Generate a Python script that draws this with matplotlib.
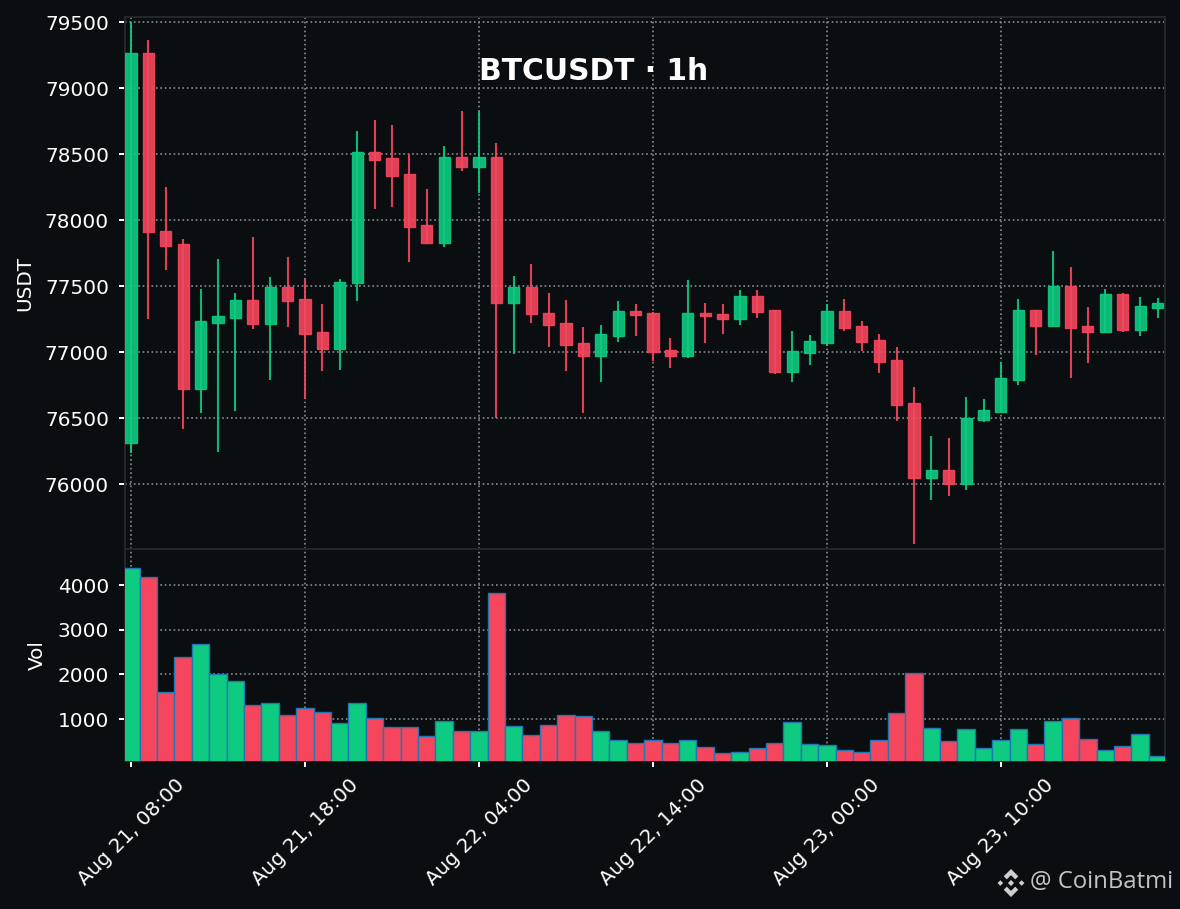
import matplotlib
matplotlib.use('Agg')
import matplotlib.pyplot as plt
import numpy as np
from matplotlib.patches import Polygon

# hourly candles
opens = [76310, 79265, 77917, 77818, 76720, 77220, 77258, 77394, 77212, 77492,
         77401, 77151, 77023, 77523, 78515, 78470, 78348, 77962, 77826, 78477,
         78402, 78477, 77371, 77492, 77295, 77220, 77068, 76970, 77121, 77311,
         77295, 77015, 76970, 77295, 77288, 77250, 77424, 77318, 76848, 76992,
         77068, 77311, 77197, 77091, 76939, 76614, 76045, 76106, 76000, 76485,
         76545, 76788, 77318, 77197, 77500, 77197, 77151, 77439, 77167, 77333]
highs = [79500, 79365, 78250, 77856, 77477, 77705, 77447, 77871, 77568, 77720,
         77553, 77364, 77553, 78674, 78758, 78720, 78500, 78235, 78561, 78826,
         78826, 78583, 77576, 77667, 77447, 77394, 77189, 77205, 77386, 77364,
         77303, 77106, 77545, 77371, 77364, 77470, 77470, 77318, 77159, 77129,
         77364, 77401, 77235, 77136, 77038, 76735, 76364, 76348, 76659, 76644,
         76924, 77401, 77318, 77765, 77644, 77341, 77477, 77447, 77417, 77409]
lows = [76235, 77250, 77620, 76417, 76538, 76242, 76553, 77174, 76788, 77189,
        76644, 76856, 76864, 77386, 78083, 78098, 77682, 77818, 77795, 78371,
        78205, 76500, 76985, 77220, 77038, 76856, 76538, 76773, 77076, 77121,
        76932, 76879, 76955, 77068, 77136, 77205, 77258, 76833, 76773, 76902,
        77045, 77159, 77008, 76841, 76477, 75545, 75879, 75909, 75955, 76470,
        76545, 76750, 76977, 77197, 76803, 76917, 77151, 77151, 77121, 77258]
closes = [79265, 77910, 77803, 76720, 77235, 77273, 77394, 77212, 77492, 77386,
          77136, 77023, 77530, 78515, 78455, 78333, 77947, 77826, 78477, 78402,
          78477, 77371, 77492, 77288, 77205, 77053, 76970, 77136, 77311, 77280,
          77000, 76970, 77295, 77270, 77250, 77424, 77303, 76848, 77008, 77083,
          77311, 77182, 77076, 76924, 76598, 76045, 76106, 76000, 76500, 76561,
          76803, 77318, 77197, 77500, 77182, 77151, 77439, 77167, 77348, 77371]
volumes = [4381, 4179, 1605, 2388, 2679, 2008, 1851, 1313, 1358, 1090,
           1246, 1157, 910, 1358, 1020, 821, 821, 625, 955, 731,
           731, 3821, 843, 642, 866, 1090, 1067, 731, 530, 463,
           530, 463, 530, 373, 239, 261, 351, 463, 933, 440,
           418, 306, 261, 530, 1134, 2030, 800, 507, 776, 351,
           530, 776, 440, 955, 1022, 552, 306, 395, 664, 172]
tick_pos = [0, 10, 20, 30, 40, 50]
tick_labels = ['Aug 21, 08:00', 'Aug 21, 18:00', 'Aug 22, 04:00',
               'Aug 22, 14:00', 'Aug 23, 00:00', 'Aug 23, 10:00']
price_ticks = [76000, 76500, 77000, 77500, 78000, 78500, 79000, 79500]
vol_ticks = [1000, 2000, 3000, 4000]

BG = '#0b0e11'
GREEN = '#0ecb81'
RED = '#f6465d'
W, H = 1180, 909

plt.rcParams['font.family'] = 'DejaVu Sans'
plt.rcParams['font.size'] = 7.2

fig = plt.figure(figsize=(W / 200, H / 200), dpi=200, facecolor=BG)
ax = fig.add_axes([125 / W, 1 - 549 / H, 1040 / W, 532 / H], facecolor=BG)
ax2 = fig.add_axes([125 / W, 1 - 761 / H, 1040 / W, 212 / H], facecolor=BG, sharex=ax)

x = np.arange(len(opens))
o = np.array(opens)
c = np.array(closes)
colors = [GREEN if b >= a else RED for a, b in zip(opens, closes)]

# candles
ax.vlines(x, lows, highs, colors=colors, linewidth=0.75, alpha=0.9, zorder=3)
ax.bar(x, np.abs(c - o), bottom=np.minimum(o, c), width=0.64, color=colors,
       edgecolor=colors, linewidth=0.5, alpha=0.9, zorder=3)
ax.set_ylim(75508, 79538)
ax.set_xlim(-0.345, 59.43)
ax.set_yticks(price_ticks)
ax.set_ylabel('USDT', color='white')
ax.yaxis.set_label_coords((34 - 125) / 1040, 0.5)

# volume
ax2.bar(x, volumes, width=1.0, color=colors, edgecolor='#1f77b4', linewidth=0.5, zorder=3)
ax2.set_ylim(60, 4806)
ax2.set_yticks(vol_ticks)
ax2.set_xticks(tick_pos)
ax2.set_xticklabels(tick_labels, rotation=45)
ax2.set_ylabel('Vol', color='white')
ax2.yaxis.set_label_coords((47 - 125) / 1040, 0.5)

for a in (ax, ax2):
    a.set_axisbelow(True)
    a.grid(True, linestyle=':', linewidth=0.6, color='#8a8d90')
    a.tick_params(colors='white', length=2.3, width=0.7, pad=3.5, labelsize=7.2)
    for s in a.spines.values():
        s.set_color('#23282d')
        s.set_linewidth(0.7)
ax.tick_params(axis='x', length=0, labelbottom=False)
ax2.tick_params(axis='x', pad=2.9)

fig.text(594 / W, 1 - 71 / H, 'BTCUSDT · 1h', color='white', fontsize=10.7,
         fontweight='bold', ha='center', va='center')

# watermark: logo and handle
logo = fig.add_axes([997 / W, 1 - 897 / H, 28 / W, 28 / H])
logo.set_xlim(-1, 1)
logo.set_ylim(-1, 1)
logo.axis('off')
shapes = [
    [(0, 0.22), (0.22, 0), (0, -0.22), (-0.22, 0)],
    [(-0.76, 0.2), (-0.56, 0), (-0.76, -0.2), (-0.96, 0)],
    [(0.76, 0.2), (0.96, 0), (0.76, -0.2), (0.56, 0)],
    [(0, 1), (0.52, 0.48), (0.3, 0.26), (0, 0.56), (-0.3, 0.26), (-0.52, 0.48)],
    [(0, -1), (0.52, -0.48), (0.3, -0.26), (0, -0.56), (-0.3, -0.26), (-0.52, -0.48)],
]
for pts in shapes:
    logo.add_patch(Polygon(pts, closed=True, facecolor='#cfcfcf', edgecolor='none'))
fig.text(1030.5 / W, 1 - 882 / H, '@ CoinBatmi', color='#c4c4c4', fontsize=8.6,
         family='Open Sans', ha='left', va='center')

fig.savefig('out.png', dpi=200, facecolor=BG)
